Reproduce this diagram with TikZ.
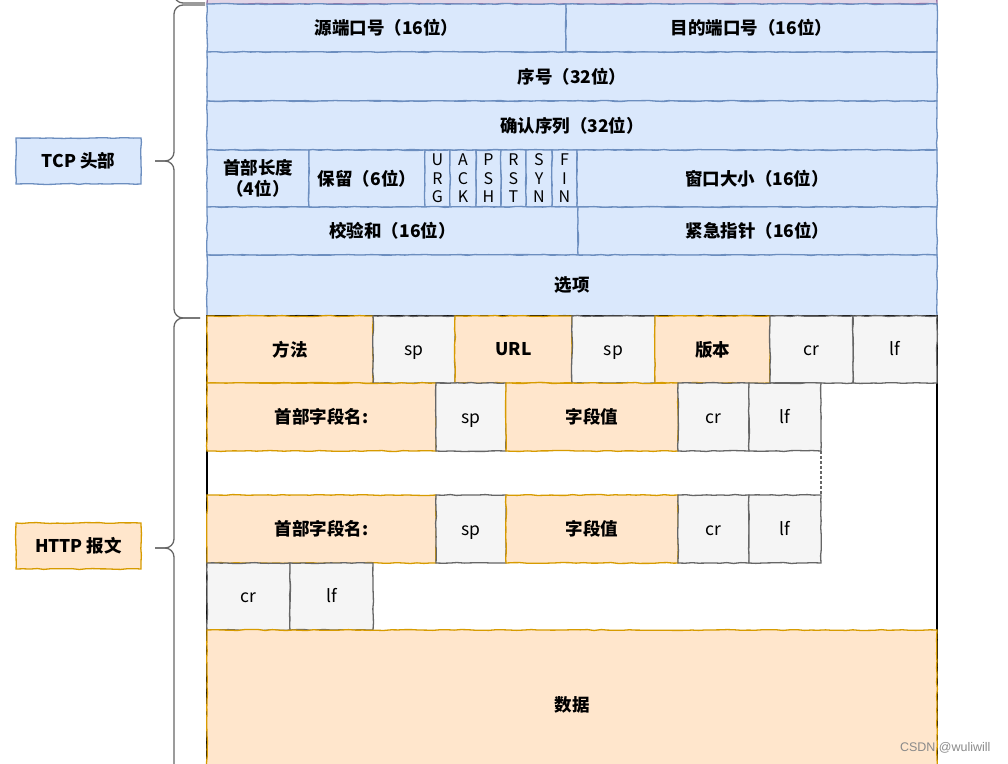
\documentclass[tikz,border=0pt]{standalone}
\usepackage{fontspec}
\setmainfont{Noto Sans CJK SC}
\newfontfamily\markfont{Liberation Sans}
\usetikzlibrary{decorations.pathmorphing}

\definecolor{tcpfill}{HTML}{DAE8FC}
\definecolor{tcpline}{HTML}{6C8EBF}
\definecolor{httpfill}{HTML}{FFE6CC}
\definecolor{httpline}{HTML}{D79B00}
\definecolor{ctrlfill}{HTML}{F5F5F5}
\definecolor{ctrlline}{HTML}{666666}
\definecolor{ipfill}{HTML}{E1D5E7}
\definecolor{ipline}{HTML}{9673A6}
\definecolor{markgray}{HTML}{8A8A8A}

\tikzset{
  rough/.style={decorate, decoration={random steps, segment length=7pt, amplitude=0.5pt}},
  cell/.style={rough, draw, line width=1.3pt, inner sep=0pt, outer sep=0pt,
    anchor=north west, align=center, font=\fontsize{17.5}{21}\selectfont\bfseries},
  tcpcell/.style={cell, fill=tcpfill, draw=tcpline},
  httpcell/.style={cell, fill=httpfill, draw=httpline},
  ctrlcell/.style={cell, fill=ctrlfill, draw=ctrlline, font=\fontsize{17.5}{21}\selectfont,
    text height=13pt, text depth=1pt},
  ipcell/.style={cell, fill=ipfill, draw=ipline},
  flagcell/.style={tcpcell, font=\fontsize{16}{18.5}\selectfont},
  brace/.style={draw=ctrlline, line width=1.3pt, rounded corners=9pt},
}

% field: style, name, x1, y1, x2, y2, text
\newcommand{\field}[7]{\node[#1, minimum width={#5-#3}, minimum height={#6-#4}] (#2) at (#3,#4) {#7};}

\pgfmathsetseed{11}

\begin{document}
\begin{tikzpicture}[x=1pt, y=-1pt]
		\useasboundingbox (0,0) rectangle (1008,763);
		\clip (0,0) rectangle (1008,763);
		%%
		\field{ipcell}{ipstrip}{207}{-30}{937}{4}{}
		%%
		\field{tcpcell}{srcport}{207}{4}{566}{52}{源端口号（16位）}
		\field{tcpcell}{dstport}{566}{4}{937}{52}{目的端口号（16位）}
		\field{tcpcell}{seqno}{207}{52}{937}{101}{序号（32位）}
		\field{tcpcell}{ackno}{207}{101}{937}{150}{确认序列（32位）}
		\field{tcpcell}{hdrlen}{207}{150}{309}{207}{首部长度\\（4位）}
		\field{tcpcell}{rsvd}{309}{150}{425}{207}{保留（6位）}
		\field{flagcell}{urg}{425}{150}{450}{207}{U\\R\\G}
		\field{flagcell}{ack}{450}{150}{476}{207}{A\\C\\K}
		\field{flagcell}{psh}{476}{150}{501}{207}{P\\S\\H}
		\field{flagcell}{rst}{501}{150}{526}{207}{R\\S\\T}
		\field{flagcell}{syn}{526}{150}{552}{207}{S\\Y\\N}
		\field{flagcell}{fin}{552}{150}{577}{207}{F\\I\\N}
		\field{tcpcell}{window}{577}{150}{937}{207}{窗口大小（16位）}
		\field{tcpcell}{checksum}{207}{207}{578}{255}{校验和（16位）}
		\field{tcpcell}{urgptr}{578}{207}{937}{255}{紧急指针（16位）}
		\field{tcpcell}{options}{207}{255}{937}{316}{选项}
		%%
		\draw[line width=1.5pt, fill=white] (207,316) rectangle (937,790);
		%%
		\field{httpcell}{method}{207}{316}{373}{383}{方法}
		\field{ctrlcell}{spa}{373}{316}{455}{383}{sp}
		\field{httpcell}{url}{455}{316}{572}{383}{URL}
		\field{ctrlcell}{spb}{572}{316}{655}{383}{sp}
		\field{httpcell}{version}{655}{316}{770}{383}{版本}
		\field{ctrlcell}{cra}{770}{316}{853}{383}{cr}
		\field{ctrlcell}{lfa}{853}{316}{937}{383}{lf}
		%%
		\field{httpcell}{namea}{207}{383}{436}{451}{首部字段名:}
		\field{ctrlcell}{spc}{436}{383}{506}{451}{sp}
		\field{httpcell}{valuea}{506}{383}{678}{451}{字段值}
		\field{ctrlcell}{crb}{678}{383}{749}{451}{cr}
		\field{ctrlcell}{lfb}{749}{383}{821}{451}{lf}
		%%
		\field{httpcell}{nameb}{207}{495}{436}{563}{首部字段名:}
		\field{ctrlcell}{spd}{436}{495}{506}{563}{sp}
		\field{httpcell}{valueb}{506}{495}{678}{563}{字段值}
		\field{ctrlcell}{crc}{678}{495}{749}{563}{cr}
		\field{ctrlcell}{lfc}{749}{495}{821}{563}{lf}
		\draw[ctrlline, line width=1.3pt, dash pattern=on 3pt off 2pt] (lfb.south east) -- (lfc.north east);
		%%
		\field{ctrlcell}{crd}{207}{563}{290}{630}{cr}
		\field{ctrlcell}{lfd}{290}{563}{373}{630}{lf}
		\field{httpcell}{body}{207}{630}{937}{780}{数据}
		%%
		\field{tcpcell}{tcplabel}{16}{138}{141}{184}{TCP 头部}
		\field{httpcell}{httplabel}{16}{523}{141}{569}{HTTP 报文}
		\coordinate (tcptip) at (155,161);
		\coordinate (httptip) at (155,548);
		\draw[brace] (174,-40) -- (174,3) -- (205,3);
		\draw[brace] (205,5) -- (174,5) -- (174,161) -- (tcptip);
		\draw[brace] (tcptip) -- (174,161) -- (174,318) -- (200,318);
		\draw[brace] (200,318) -- (174,318) -- (174,548) -- (httptip);
		\draw[brace] (httptip) -- (174,548) -- (174,800);
		%%
		\node[anchor=east, text=markgray, font=\markfont\fontsize{12.5}{15}\selectfont] (mark) at (994,748) {CSDN @wuliwill};
	\end{tikzpicture}
\end{document}
